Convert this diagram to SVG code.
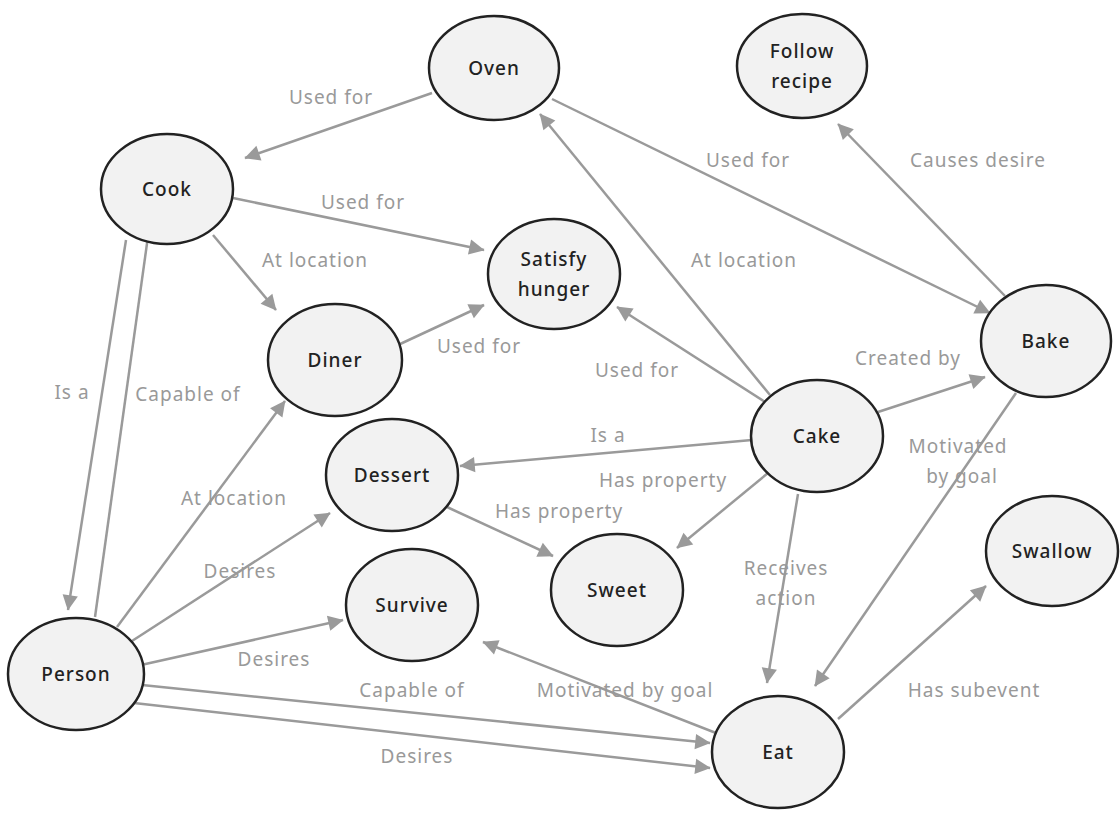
<svg xmlns="http://www.w3.org/2000/svg" width="1120" height="822" viewBox="0 0 1120 822">
<style>
.n ellipse{fill:#f2f2f2;stroke:#222;stroke-width:2.5}
.n text{font-family:"Noto Sans",sans-serif;font-size:19px;font-weight:500;fill:#222;text-anchor:middle;letter-spacing:1px}
.e line{stroke:#9a9a9a;stroke-width:2.5;marker-end:url(#a)}
.e text{font-family:"Noto Sans",sans-serif;font-size:19px;fill:#999;text-anchor:middle;letter-spacing:1px}
</style>
<defs><marker id="a" viewBox="0 0 10 10" refX="9" refY="5" markerWidth="7" markerHeight="7" markerUnits="userSpaceOnUse" orient="auto" style="overflow:visible"><path d="M0,0L10,5L0,10z" fill="#9a9a9a" transform="scale(2.2) translate(-5.5,-2.7)"/></marker></defs>
<rect width="1120" height="822" fill="#fff"/>
<g class="e">
<line x1="432" y1="93" x2="245" y2="158"/><text x="331" y="104">Used for</text>
<line x1="552" y1="99" x2="990" y2="313"/><text x="748" y="167">Used for</text>
<line x1="1005" y1="296" x2="838" y2="124"/><text x="978" y="167">Causes desire</text>
<line x1="233" y1="198" x2="484" y2="250"/><text x="363" y="209">Used for</text>
<line x1="213" y1="235" x2="276" y2="310"/><text x="315" y="267">At location</text>
<line x1="770" y1="395" x2="540" y2="114"/><text x="744" y="267">At location</text>
<line x1="398" y1="345" x2="484" y2="305"/><text x="479" y="353">Used for</text>
<line x1="765" y1="402" x2="617" y2="307"/><text x="637" y="377">Used for</text>
<line x1="878" y1="412" x2="985" y2="377"/><text x="908" y="365">Created by</text>
<line x1="1016" y1="393" x2="815" y2="686"/><text x="958" y="453">Motivated</text><text x="962" y="483">by goal</text>
<line x1="752" y1="440" x2="460" y2="466"/><text x="608" y="442">Is a</text>
<line x1="768" y1="473" x2="677" y2="548"/><text x="663" y="487">Has property</text>
<line x1="447" y1="507" x2="553" y2="556"/><text x="559" y="518">Has property</text>
<line x1="798" y1="494" x2="767" y2="683"/><text x="786" y="575">Receives</text><text x="786" y="605">action</text>
<line x1="838" y1="719" x2="986" y2="586"/><text x="974" y="697">Has subevent</text>
<line x1="716" y1="733" x2="483" y2="642"/><text x="625" y="697">Motivated by goal</text>
<line x1="95" y1="617" x2="150" y2="222"/><text x="188" y="401">Capable of</text>
<line x1="126" y1="240" x2="68" y2="610"/><text x="72" y="399">Is a</text>
<line x1="117" y1="627" x2="285" y2="401"/><text x="234" y="505">At location</text>
<line x1="132" y1="641" x2="330" y2="513"/><text x="240" y="578">Desires</text>
<line x1="141" y1="665" x2="343" y2="620"/><text x="274" y="666">Desires</text>
<line x1="142" y1="685" x2="710" y2="743"/><text x="412" y="697">Capable of</text>
<line x1="134" y1="703" x2="710" y2="768"/><text x="417" y="763">Desires</text>
</g>
<g class="n" id="oven"><ellipse cx="494" cy="68" rx="65" ry="52"/><text x="494" y="75">Oven</text></g>
<g class="n" id="follow"><ellipse cx="802" cy="66" rx="65" ry="52"/><text x="802" y="58">Follow</text><text x="802" y="88">recipe</text></g>
<g class="n" id="cook"><ellipse cx="167" cy="189" rx="66" ry="55"/><text x="167" y="196">Cook</text></g>
<g class="n" id="satisfy"><ellipse cx="554" cy="274" rx="66" ry="55"/><text x="554" y="266">Satisfy</text><text x="554" y="296">hunger</text></g>
<g class="n" id="diner"><ellipse cx="335" cy="360" rx="67" ry="56"/><text x="335" y="367">Diner</text></g>
<g class="n" id="bake"><ellipse cx="1046" cy="341" rx="65" ry="56"/><text x="1046" y="348">Bake</text></g>
<g class="n" id="cake"><ellipse cx="817" cy="436" rx="66" ry="56"/><text x="817" y="443">Cake</text></g>
<g class="n" id="dessert"><ellipse cx="392" cy="475" rx="66" ry="56"/><text x="392" y="482">Dessert</text></g>
<g class="n" id="swallow"><ellipse cx="1052" cy="551" rx="66" ry="55"/><text x="1052" y="558">Swallow</text></g>
<g class="n" id="survive"><ellipse cx="412" cy="605" rx="66" ry="56"/><text x="412" y="612">Survive</text></g>
<g class="n" id="sweet"><ellipse cx="617" cy="590" rx="66" ry="56"/><text x="617" y="597">Sweet</text></g>
<g class="n" id="person"><ellipse cx="76" cy="674" rx="68" ry="56"/><text x="76" y="681">Person</text></g>
<g class="n" id="eat"><ellipse cx="778" cy="752" rx="66" ry="56"/><text x="778" y="759">Eat</text></g>
</svg>
